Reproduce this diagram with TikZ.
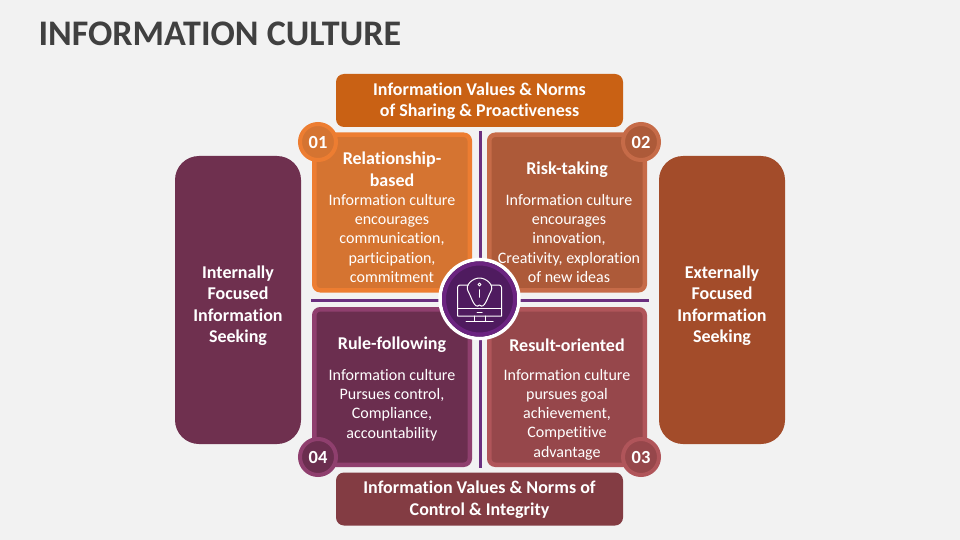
\documentclass[tikz,border=0pt]{standalone}
\usepackage{fontspec}
\setmainfont[Ligatures=CommonOff]{Carlito}
\usepackage{color}
\usetikzlibrary{shadows}
\definecolor{pagebg}{HTML}{F2F2F2}
\definecolor{titlegray}{HTML}{404040}
\definecolor{plumdark}{HTML}{6F304F}
\definecolor{rustdark}{HTML}{A34C2A}
\definecolor{orangetop}{HTML}{C96114}
\definecolor{wineend}{HTML}{833C43}
\definecolor{linepurple}{HTML}{6B2F7F}
\definecolor{ringpurple}{HTML}{6B2480}
\definecolor{corepurple}{HTML}{4F1B5F}
\definecolor{onerim}{HTML}{ED7D31}
\definecolor{onefill}{HTML}{D57431}
\definecolor{tworim}{HTML}{C66B48}
\definecolor{twofill}{HTML}{AD5A39}
\definecolor{threerim}{HTML}{B0555A}
\definecolor{threefill}{HTML}{96474B}
\definecolor{fourrim}{HTML}{8F3F6E}
\definecolor{fourfill}{HTML}{6B2E4F}
\tikzset{
	x=1pt,y=-1pt,
	sidebox/.style={minimum width=126pt,minimum height=288pt,rounded corners=24pt,inner sep=0pt},
	bandbox/.style={minimum width=287pt,minimum height=53pt,rounded corners=8pt,inner sep=0pt},
	panelbox/.style={minimum width=155.5pt,minimum height=155.5pt,rounded corners=6pt,line width=4.5pt,inner sep=0pt},
	badge/.style={circle,minimum size=36pt,line width=4pt,inner sep=0pt,text=white,
		drop shadow={shadow xshift=0.5pt,shadow yshift=-0.5pt,opacity=0.25},
		font=\bfseries\fontsize{18.5}{18.5}\selectfont},
	headtxt/.style={text=white,align=center,font=\bfseries\fontsize{18}{21.5}\selectfont},
	bodytxt/.style={text=white,align=center,font=\fontsize{16}{19.3}\selectfont},
	crossline/.style={linepurple,line width=3pt},
	iconline/.style={white,line width=1pt,line cap=round,line join=round}
}
\begin{document}
\begin{tikzpicture}
	\path[fill=pagebg] (0,0) rectangle (960,540);
	\useasboundingbox (0,0) rectangle (960,540);
	\node[anchor=west,text=titlegray,font=\bfseries\fontsize{36}{36}\selectfont] (title) at (35,34) {INFORMATION CULTURE};

	\node[sidebox,fill=plumdark] (left) at (238,300) {};
	\node[sidebox,fill=rustdark] (right) at (722,300) {};
	\node[headtxt] (lefttxt) at (238,305.5) {Internally\\Focused\\Information\\Seeking};
	\node[headtxt] (righttxt) at (722,305.5) {Externally\\Focused\\Information\\Seeking};

	\node[bandbox,fill=orangetop] (top) at (479.5,100.5) {};
	\node[bandbox,fill=wineend] (bottom) at (479.5,499) {};
	\node[headtxt] (toptxt) at (479.5,101) {Information Values \& Norms\\of Sharing \& Proactiveness};
	\node[headtxt] (bottomtxt) at (479.5,499.5) {Information Values \& Norms of\\Control \& Integrity};

	\node[panelbox,fill=onefill,draw=onerim] (p1) at (392,212.5) {};
	\node[panelbox,fill=twofill,draw=tworim] (p2) at (567,212.5) {};
	\node[panelbox,fill=threefill,draw=threerim] (p3) at (567,387) {};
	\node[panelbox,fill=fourfill,draw=fourrim] (p4) at (392,387) {};

	\coordinate (vtop) at (480,131);
	\coordinate (vbot) at (480,468);
	\coordinate (hleft) at (311,300);
	\coordinate (hright) at (649,300);
	\draw[crossline] (vtop) -- (vbot);
	\draw[crossline] (hleft) -- (hright);

	\node[headtxt] (h1) at (392,169.5) {Relationship-\\based};
	\node[bodytxt] (b1) at (392,238.5) {Information culture\\encourages\\communication,\\participation,\\commitment};
	\node[headtxt] (h2) at (567,169.5) {Risk-taking};
	\node[bodytxt] (b2) at (569,238.5) {Information culture\\encourages\\innovation,\\Creativity, exploration\\of new ideas};
	\node[headtxt] (h3) at (567,345) {Result-oriented};
	\node[bodytxt] (b3) at (567,414.5) {Information culture\\pursues goal\\achievement,\\Competitive\\advantage};
	\node[headtxt] (h4) at (392,345) {Rule-following};
	\node[bodytxt] (b4) at (392,405) {Information culture\\Pursues control,\\Compliance,\\accountability};

	\node[badge,fill=onefill,draw=onerim] (n1) at (318,142) {01};
	\node[badge,fill=twofill,draw=tworim] (n2) at (641,142) {02};
	\node[badge,fill=threefill,draw=threerim] (n3) at (641,457) {03};
	\node[badge,fill=fourfill,draw=fourrim] (n4) at (318,457) {04};

	\node[circle,minimum size=79pt,inner sep=0pt,fill=corepurple,draw=white,line width=3.5pt] (hub) at (479.5,299) {};
	\node[circle,minimum size=71pt,inner sep=0pt,draw=ringpurple,line width=4pt] (hubring) at (hub) {};

	% monitor icon
	\draw[iconline] (468,285) -- (460,285) to[out=180,in=90] (457.5,287.5) -- (457.5,316) -- (501.5,316) -- (501.5,287.5) to[out=90,in=0] (499,285) -- (491,285);
	\draw[iconline] (457.5,308) -- (501.5,308);
	\draw[iconline] (477,312) -- (482,312) (489,308.8) -- (490,308.8);
	\draw[iconline] (474,316) -- (474,321) (485,316) -- (485,321) (466,321) -- (493,321);
	\draw[iconline] (479.5,305) to[out=225,in=-60] (468,291) to[out=120,in=180] (479.5,278) to[out=0,in=60] (491,291) to[out=240,in=-45] cycle;
	\draw[iconline] (479.5,284.5) circle (1.5pt);
	\draw[iconline,line width=1.6pt] (479.5,290) -- (479.5,297);
\end{tikzpicture}
\end{document}
